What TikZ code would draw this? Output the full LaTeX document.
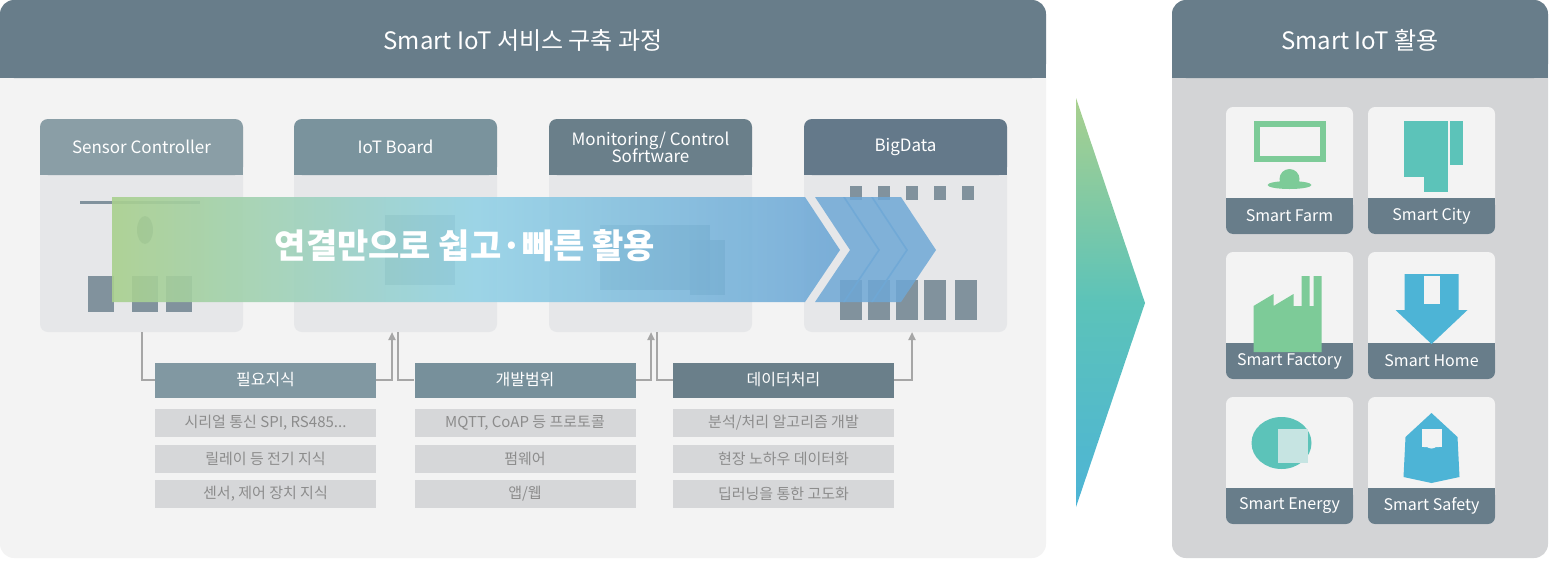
\documentclass[tikz,border=0pt]{standalone}
\usepackage{fontspec}
\setmainfont{Noto Sans CJK KR}
\usetikzlibrary{positioning,arrows.meta,shapes.geometric}
\definecolor{hdr}{HTML}{687D8A}
\definecolor{pane}{HTML}{F3F3F3}
\definecolor{pane2}{HTML}{D3D4D6}
\definecolor{colbody}{HTML}{E6E7E9}
\definecolor{itembg}{HTML}{D6D7D9}
\definecolor{itemtx}{HTML}{8C8C8C}
\definecolor{lgreen}{HTML}{A9D08E}
\definecolor{lblue}{HTML}{6FA8D6}
\definecolor{teal}{HTML}{5CC3B9}
\definecolor{cyan}{HTML}{4DB4D6}
\definecolor{fgreen}{HTML}{7DCB98}
\definecolor{sh1}{HTML}{8198A2}
\definecolor{sh2}{HTML}{77909B}
\definecolor{sh3}{HTML}{6A7F8A}
\tikzset{
  subhead/.style={fill=#1, text=white, minimum width=221pt, minimum height=35pt, inner sep=0pt, font=\fontsize{16}{16}\selectfont},
  item/.style={fill=itembg, text=itemtx, minimum width=221pt, minimum height=28pt, inner sep=0pt, font=\fontsize{15}{15}\selectfont},
  link/.style={draw=gray!70, line width=2pt}
}
\begin{document}
\begin{tikzpicture}[x=1pt,y=-1pt]
\useasboundingbox (0,0) rectangle (1549,560);
% panels
\fill[pane, rounded corners=14pt] (0,0) rectangle (1046,558);
\fill[hdr, rounded corners=14pt] (0,0) rectangle (1046,78);
\fill[hdr] (0,40) rectangle (1046,78);
\node[text=white, font=\fontsize{24}{24}\selectfont] (title) at (523,40) {Smart IoT 서비스 구축 과정};
\fill[pane2, rounded corners=14pt] (1172,0) rectangle (1548,558);
\fill[hdr, rounded corners=14pt] (1172,0) rectangle (1548,78);
\fill[hdr] (1172,40) rectangle (1548,78);
\node[text=white, font=\fontsize{24}{24}\selectfont] (title2) at (1360,40) {Smart IoT 활용};
% big arrow
\shade[top color=lgreen, bottom color=cyan, middle color=teal] (1076,98) -- (1145,303) -- (1076,507) -- cycle;
% columns
\foreach \x/\c/\t [count=\i] in {40/8A9EA6/Sensor Controller, 294/7A939D/IoT Board, 549/6A7F8A/{Monitoring/ Control\\[-2pt]Sofrtware}, 804/64798A/BigData/AI}{
  \fill[colbody, rounded corners=8pt] (\x,119) rectangle ++(203,213);
  \definecolor{cc}{HTML}{\c}
  \fill[cc, rounded corners=8pt] (\x,119) rectangle ++(203,56);
  \fill[cc] (\x,150) rectangle ++(203,25);
  \node[text=white, font=\fontsize{17}{18}\selectfont, align=center] (col\i) at (\x+101.5,147) {\t};
}
% column icons (faded)
\begin{scope}[opacity=0.8]
\foreach \x in {88,132,166}{\fill[hdr] (\x,276) rectangle ++(26,36);}
\fill[hdr] (145,230) ellipse (8 and 14);
\draw[hdr, line width=3pt] (80,202) -- (200,202);
\fill[hdr] (600,225) rectangle ++(110,65);
\fill[hdr] (690,240) rectangle ++(35,55);
\fill[hdr] (385,215) rectangle ++(70,70);
\foreach \x in {840,868,896,924} {\fill[hdr] (\x,280) rectangle ++(22,40);}
\fill[hdr] (955,280) rectangle ++(22,40);
\foreach \x in {850,878,906,934,962}{\fill[hdr] (\x,186) rectangle ++(12,14);}
\end{scope}
% banner
\shade[left color=lgreen, right color=lblue, middle color=cyan!60, opacity=0.9] (112,197) -- (805,197) -- (840,250) -- (805,302) -- (112,302) -- cycle;
\foreach \dx in {0,28,56}{
  \fill[lblue, opacity=0.85] (815+\dx,197) -- (845+\dx,197) -- (880+\dx,250) -- (845+\dx,302) -- (815+\dx,302) -- (850+\dx,250) -- cycle;
}
\node[text=white, font=\fontsize{34}{34}\selectfont\bfseries] (slogan) at (465,246) {연결만으로 쉽고·빠른 활용};
% lower boxes
\node[subhead=sh1] (need) at (265.5,380) {필요지식};
\node[subhead=sh2] (dev) at (525,380) {개발범위};
\node[subhead=sh3] (data) at (783.5,380) {데이터처리};
\foreach \b/\a/\bb/\cc in {need/{시리얼 통신 SPI, RS485...}/{릴레이 등 전기 지식}/{센서, 제어 장치 지식},
  dev/{MQTT, CoAP 등 프로토콜}/{펌웨어}/{앱/웹},
  data/{분석/처리 알고리즘 개발}/{현장 노하우 데이터화}/{딥러닝을 통한 고도화}}{
  \node[item, below=11pt of \b] (\b1) {\a};
  \node[item, below=8pt of \b1] (\b2) {\bb};
  \node[item, below=6pt of \b2] (\b3) {\cc};
}
% connectors
\coordinate (c1) at (142,332);
\coordinate (c2a) at (392,332);
\coordinate (c2b) at (398,332);
\coordinate (c3a) at (651,332);
\coordinate (c3b) at (657,332);
\coordinate (c4) at (912,332);
\draw[link] (c1) |- (need.west);
\draw[link, -{Triangle[length=8pt,width=7pt]}] (need.east) -| (c2a);
\draw[link] (c2b) |- (dev.west);
\draw[link, -{Triangle[length=8pt,width=7pt]}] (dev.east) -| (c3a);
\draw[link] (c3b) |- (data.west);
\draw[link, -{Triangle[length=8pt,width=7pt]}] (data.east) -| (c4);
% use cases
\foreach \x/\y/\t [count=\i] in {1226/107/Smart Farm, 1368/107/Smart City, 1226/252/Smart Factory, 1368/252/Smart Home, 1226/397/Smart Energy, 1368/397/Smart Safety}{
  \fill[pane, rounded corners=7pt] (\x,\y) rectangle ++(127,127);
  \fill[hdr, rounded corners=7pt] (\x,\y+91) rectangle ++(127,36);
  \fill[hdr] (\x,\y+91) rectangle ++(127,15);
  \node[text=white, font=\fontsize{16}{16}\selectfont] (use\i) at (\x+63.5,\y+109) {\t};
  \coordinate (ic\i) at (\x+63.5,\y+50);
}
% icons
\fill[fgreen] ([xshift=-36pt,yshift=-5pt]ic1) rectangle ([xshift=36pt,yshift=36pt]ic1);
\fill[pane] ([xshift=-30pt,yshift=1pt]ic1) rectangle ([xshift=30pt,yshift=30pt]ic1);
\fill[fgreen] ([yshift=-28pt]ic1) ellipse (22pt and 4pt);
\fill[fgreen] ([yshift=-22pt]ic1) circle (10pt);
\fill[teal] ([xshift=-28pt,yshift=-20pt]ic2) rectangle ([xshift=-8pt,yshift=36pt]ic2);
\fill[teal] ([xshift=-8pt,yshift=-35pt]ic2) rectangle ([xshift=16pt,yshift=36pt]ic2);
\fill[teal] ([xshift=18pt,yshift=-8pt]ic2) rectangle ([xshift=31pt,yshift=36pt]ic2);
\fill[fgreen] ([xshift=-36pt,yshift=-4pt]ic3) -- ++(20,-12) -- ++(0,12) -- ++(20,-12) -- ++(0,12) -- ++(8,0) -- ++(0,-30) -- ++(8,0) -- ++(0,30) -- ++(4,0) -- ++(0,-30) -- ++(8,0) -- ++(0,76) -- ++(-68,0) -- cycle;
\fill[cyan] ([xshift=-36pt,yshift=-8pt]ic4) -- ([yshift=-42pt]ic4) -- ([xshift=36pt,yshift=-8pt]ic4) -- ([xshift=27pt,yshift=-8pt]ic4) -- ([xshift=27pt,yshift=28pt]ic4) -- ([xshift=-27pt,yshift=28pt]ic4) -- ([xshift=-27pt,yshift=-8pt]ic4) -- cycle;
\fill[pane] ([xshift=-8pt,yshift=-2pt]ic4) rectangle ([xshift=8pt,yshift=26pt]ic4);
\fill[teal] ([xshift=-8pt,yshift=4pt]ic5) ellipse (30pt and 26pt);
\fill[pane!70!teal] ([xshift=-12pt,yshift=-16pt]ic5) rectangle ([xshift=18pt,yshift=18pt]ic5);
\fill[cyan] ([xshift=-28pt,yshift=-30pt]ic6) -- ([yshift=-36pt]ic6) -- ([xshift=28pt,yshift=-30pt]ic6) -- ([xshift=26pt,yshift=10pt]ic6) -- ([yshift=34pt]ic6) -- ([xshift=-26pt,yshift=10pt]ic6) -- cycle;
\fill[pane] ([xshift=-10pt,yshift=0pt]ic6) rectangle ([xshift=10pt,yshift=18pt]ic6);
\draw[pane, line width=3pt] ([xshift=-6pt,yshift=0pt]ic6) -- ++(0,-6) arc (180:0:6) -- ++(0,6);
\end{tikzpicture}
\end{document}
